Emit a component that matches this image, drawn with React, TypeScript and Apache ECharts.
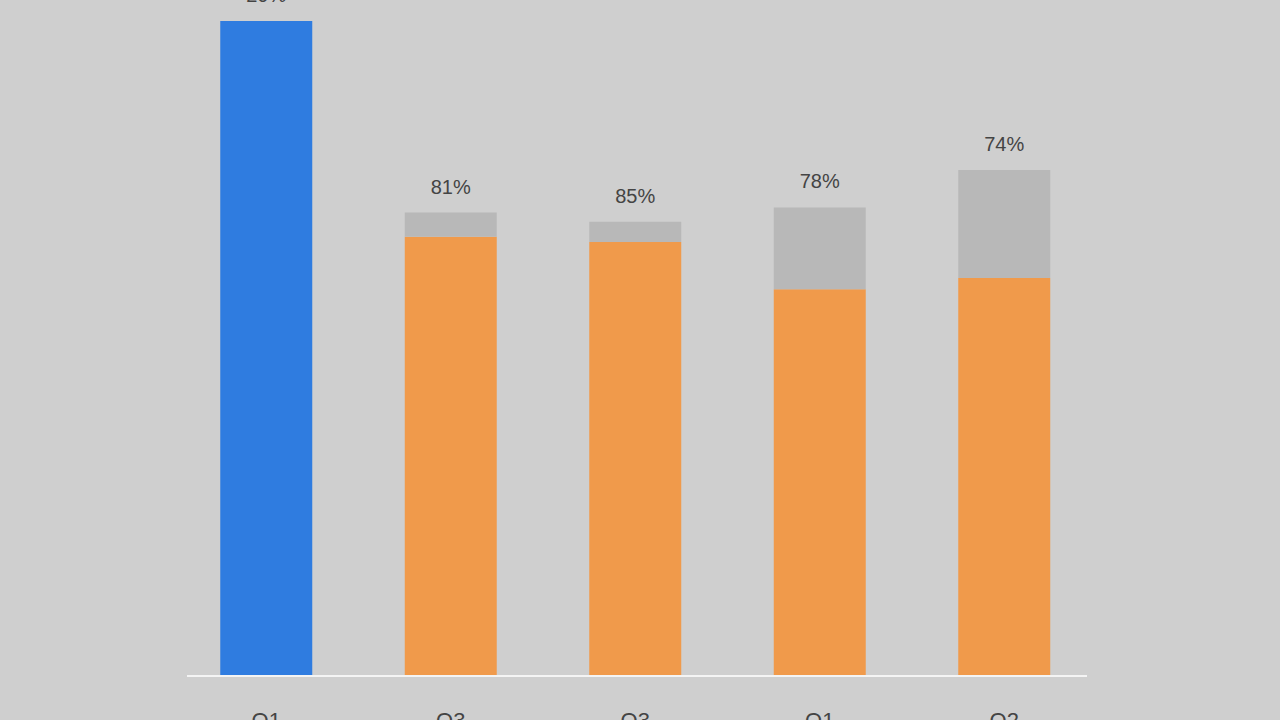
import React, { useEffect, useRef } from "react";
import * as echarts from "echarts";

const categories = ["Q1", "Q3", "Q3", "Q1", "Q2"];
const baseValues = [100, 67.0, 66.2, 59.0, 60.7];
const baseColors = ["#2f7ce0", "#f09a4b", "#f09a4b", "#f09a4b", "#f09a4b"];
const extraValues = [0, 3.7, 3.1, 12.5, 16.5];
const topLabels = ["20%", "81%", "85%", "78%", "74%"];

export default function App() {
  const ref = useRef<HTMLDivElement>(null);
  useEffect(() => {
    document.body.style.margin = "0";
    const chart = echarts.init(ref.current!, undefined, { renderer: "svg" });
    chart.setOption({
      animation: false,
      backgroundColor: "#cfcfcf",
      grid: {
        left: 174,
        right: 183.5,
        top: 21,
        bottom: 45,
        containLabel: false,
        outerBoundsMode: "none",
      },
      xAxis: {
        type: "category",
        data: categories,
        axisLine: { show: false },
        axisTick: { show: false },
        axisLabel: {
          margin: 34,
          fontSize: 22,
          color: "#444",
          fontFamily: "Liberation Sans, Arial, sans-serif",
        },
      },
      yAxis: {
        type: "value",
        min: 0,
        max: 100,
        show: false,
        splitLine: { show: false },
      },
      graphic: [
        {
          type: "line",
          shape: { x1: 187, y1: 676, x2: 1087, y2: 676 },
          style: { stroke: "#f4f4f4", lineWidth: 2 },
        },
      ],
      series: [
        {
          type: "bar",
          stack: "total",
          barWidth: 92,
          data: baseValues.map((v, i) => ({
            value: v,
            itemStyle: { color: baseColors[i] },
          })),
        },
        {
          type: "bar",
          stack: "total",
          barWidth: 92,
          itemStyle: { color: "#b8b8b8" },
          data: extraValues,
          label: {
            show: true,
            position: "top",
            distance: 16,
            fontSize: 20,
            color: "#444",
            fontFamily: "Liberation Sans, Arial, sans-serif",
            formatter: (p: any) => topLabels[p.dataIndex],
          },
        },
      ],
    });
    return () => chart.dispose();
  }, []);
  return <div ref={ref} style={{ width: 1280, height: 720 }} />;
}
